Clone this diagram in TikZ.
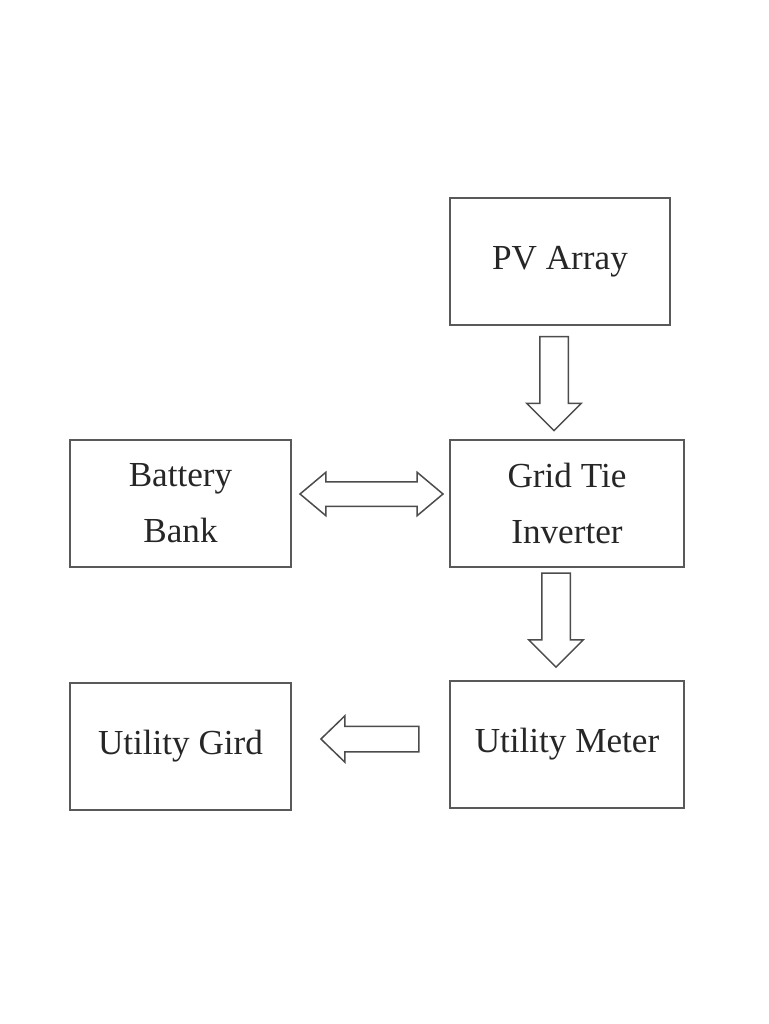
\documentclass[tikz,border=0pt]{standalone}
\usepackage{fontspec}
\setmainfont{Liberation Serif}
\usetikzlibrary{shapes.arrows,calc}
\begin{document}
\begin{tikzpicture}[x=0.02cm, y=-0.02cm,
    blockbox/.style={rectangle, draw=black!65, line width=0.04cm, text=black!85, align=center,
        minimum height=2.54cm, font=\fontsize{20}{32}\selectfont},
    flowarrow/.style={single arrow, draw=black!70, fill=white, line width=0.03cm,
        single arrow head indent=0pt, inner sep=0.27cm, single arrow head extend=0.26cm},
    twoarrow/.style={double arrow, draw=black!70, fill=white, line width=0.03cm,
        double arrow head indent=0pt, inner sep=0.23cm, double arrow head extend=0.19cm,
        double arrow tip angle=80}]
 \useasboundingbox (0,0) rectangle (768,1024);
 \begin{scope}
        \node[blockbox, minimum width=4.4cm] (PV) at (560,261.5) {PV Array};
        \node[blockbox, minimum width=4.68cm] (Inv) at (567,503.5) {Grid Tie\\Inverter};
        \node[blockbox, minimum width=4.42cm] (Bat) at (180.5,503.5) {Battery\\Bank};
        \node[blockbox, minimum width=4.68cm] (Met) at (567,744.5) {Utility Meter};
        \node[blockbox, minimum width=4.42cm] (Grd) at (180.5,746.5) {Utility Gird};
        % block arrows between the boxes
        \node[flowarrow, minimum height=1.88cm, rotate=-90] (PV-Inv) at ($(PV.south)!0.5!(Inv.north)+(-9.5,-6)$) {};
        \node[flowarrow, minimum height=1.88cm, rotate=-90] (Inv-Met) at ($(Inv.south)!0.5!(Met.north)+(-11,-11)$) {};
        \node[twoarrow, minimum height=2.86cm] (Bat-Inv) at ($(Bat.east)!0.5!(Inv.west)+(1,-9.5)$) {};
        \node[flowarrow, minimum height=1.96cm, rotate=180, inner sep=0.24cm,
            single arrow head extend=0.21cm, single arrow tip angle=88] (Met-Grd) at ($(Met.west)!0.5!(Grd.east)+(6,-6.5)$) {};
    \end{scope}
\end{tikzpicture}
\end{document}
